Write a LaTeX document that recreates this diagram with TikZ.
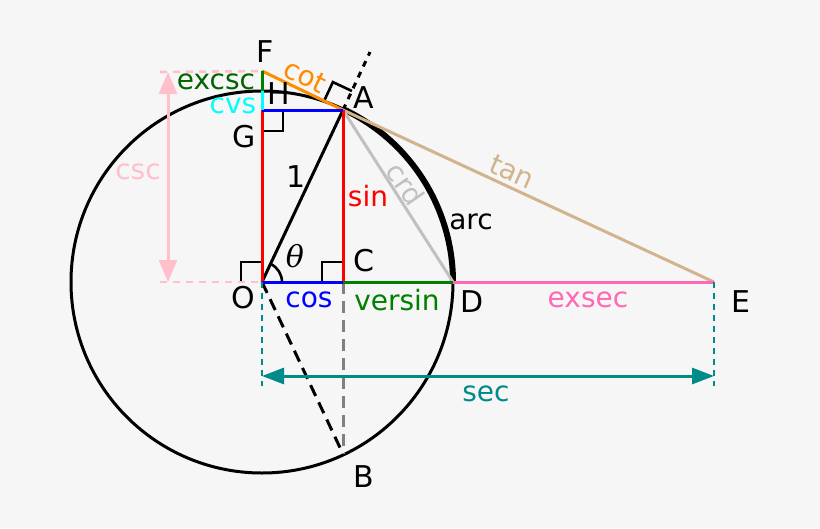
\documentclass[tikz,border=0pt]{standalone}
\usepackage{fontspec}
\setmainfont{DejaVu Sans}
\newfontfamily\thetafont{DejaVu Serif}
\usetikzlibrary{arrows.meta}
\definecolor{bg}{HTML}{F6F6F6}
\definecolor{tanc}{HTML}{D2B48C}
\definecolor{teal2}{HTML}{008B8B}
\definecolor{pinkc}{HTML}{FFC0CB}
\definecolor{hotp}{HTML}{FF69B4}
\definecolor{orng}{HTML}{FF8C00}
\definecolor{dgreen}{HTML}{006400}
\definecolor{grn}{HTML}{008000}
\definecolor{crdc}{HTML}{C0C0C0}
\definecolor{aqua}{HTML}{00FFFF}
\begin{document}
\begin{tikzpicture}[x=1pt,y=-1pt,
  pt/.style={font=\fontsize{30}{34}\selectfont, inner sep=0pt},
  lab/.style={font=\fontsize{28}{31}\selectfont, inner sep=0pt},
  seg/.style={line width=3pt},
  ra/.style={line width=2.6pt}]
\fill[bg] (0,0) rectangle (820,528);
\useasboundingbox (0,0) rectangle (820,528);
\coordinate (O) at (262,282);
\coordinate (A) at (343,110);
\coordinate (C) at (343,282);
\coordinate (G) at (262,110);
\coordinate (D) at (453,282);
\coordinate (E) at (714,282);
\coordinate (F) at (262,71);
\coordinate (H) at (262,91);
\coordinate (B) at (343,454);
\coordinate (Ext) at (370,52);
% circle
\draw[line width=3pt] (O) circle (191);
\draw[line width=6pt] (D) arc (0:-64.8:191);
% right angles
\draw[ra] (241,282) -- (241,262) -- (262,262);
\draw[ra] (322,282) -- (322,262) -- (343,262);
\draw[ra] (262,131) -- (283,131) -- (283,110);
\draw[ra] (A) ++(8.9,-19) -- ++(-19,-8.9) -- ++(-8.9,19);
% lines
\draw[line width=3pt, dash pattern=on 12pt off 7pt] (O) -- (B);
\draw[line width=3pt, gray, dash pattern=on 12pt off 7pt] (C) -- (B);
\draw[line width=3pt, dash pattern=on 6pt off 6pt] (A) -- (Ext);
\draw[line width=3pt] (O) -- (A);
\draw[line width=3pt, crdc] (A) -- (D);
\draw[seg, tanc] (A) -- (E);
\draw[seg, orng] (F) -- (A);
\draw[seg, red] (O) -- (G);
\draw[seg, red] (A) -- (C);
\draw[seg, blue] (G) -- (A);
\draw[seg, blue] (O) -- (C);
\draw[seg, grn] (C) -- (D);
\draw[seg, hotp] (D) -- (E);
\draw[seg, grn] (F) -- (H);
\draw[seg, aqua] (H) -- (G);
% theta arc
\draw[line width=2.6pt] (282,282) arc (0:-64.8:20);
% csc
\draw[line width=2.6pt, pinkc, dash pattern=on 7pt off 6pt] (160,72) -- (F);
\draw[line width=2.6pt, pinkc, dash pattern=on 7pt off 6pt] (160,282) -- (O);
\draw[line width=3pt, pinkc, {Triangle[length=22pt,width=18pt]}-{Triangle[length=22pt,width=18pt]}] (168,72) -- (168,282);
% sec
\draw[line width=2.6pt, teal2, dash pattern=on 6pt off 5pt] (O) -- (262,386);
\draw[line width=2.6pt, teal2, dash pattern=on 6pt off 5pt] (E) -- (714,386);
\draw[line width=3pt, teal2, {Triangle[length=22pt,width=16pt]}-{Triangle[length=22pt,width=16pt]}] (262,376) -- (714,376);
% point labels
\node[pt] (lF) at (265,52) {F};
\node[pt] (lH) at (279,94) {H};
\node[pt] (lA) at (364,98) {A};
\node[pt] (lG) at (244,137) {G};
\node[pt] (lC) at (364,261) {C};
\node[pt] (lO) at (243,298) {O};
\node[pt] (lD) at (472,302) {D};
\node[pt] (lE) at (741,302) {E};
\node[pt] (lB) at (364,477) {B};
% value labels
\node[lab, dgreen] (lexcsc) at (216,82) {excsc};
\node[lab, aqua] (lcvs) at (233,106) {cvs};
\node[lab, orng, rotate=-26] (lcot) at (305,76) {cot};
\node[lab, pinkc] (lcsc) at (138,172) {csc};
\node[pt] (l1) at (296,177) {1};
\node[lab, red] (lsin) at (368,196) {sin};
\node[lab, crdc, rotate=-55] (lcrd) at (406,184) {crd};
\node[lab, tanc, rotate=-24] (ltan) at (512,172) {tan};
\node[lab] (larc) at (471,222) {arc};
\node[pt] (lth) at (295,256) {\thetafont\itshape θ};
\node[lab, blue] (lcos) at (309,300) {cos};
\node[lab, grn] (lversin) at (397,300) {versin};
\node[lab, hotp] (lexsec) at (588,300) {exsec};
\node[lab, teal2] (lsec) at (486,394) {sec};
\end{tikzpicture}
\end{document}
